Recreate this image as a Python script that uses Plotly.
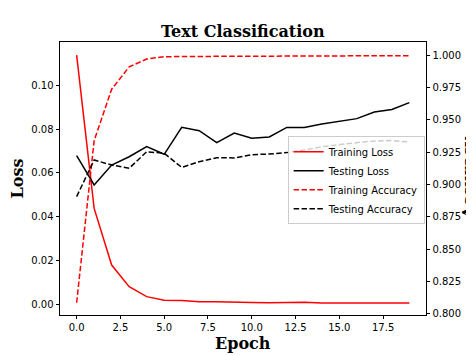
import plotly.graph_objects as go

epochs = list(range(20))
training_loss = [0.1138, 0.0438, 0.0179, 0.0080, 0.0035, 0.0018, 0.0017, 0.0012, 0.0012, 0.0009,
                 0.0008, 0.0007, 0.0008, 0.0009, 0.0006, 0.0006, 0.0006, 0.0006, 0.0006, 0.0006]
testing_loss = [0.0679, 0.0545, 0.0636, 0.0674, 0.0720, 0.0685, 0.0808, 0.0793, 0.0738, 0.0782,
                0.0758, 0.0764, 0.0808, 0.0808, 0.0823, 0.0836, 0.0848, 0.0878, 0.0890, 0.0921]
training_acc = [0.8087, 0.9340, 0.9737, 0.9910, 0.9970, 0.9988, 0.9990, 0.9991, 0.9992, 0.9993,
                0.9994, 0.9994, 0.9993, 0.9994, 0.9995, 0.9995, 0.9995, 0.9995, 0.9996, 0.9996]
testing_acc = [0.8907, 0.9190, 0.9151, 0.9126, 0.9254, 0.9242, 0.9133, 0.9177, 0.9208, 0.9206,
               0.9231, 0.9236, 0.9247, 0.9267, 0.9293, 0.9311, 0.9324, 0.9337, 0.9340, 0.9329]

x_ticks = [0, 2.5, 5, 7.5, 10, 12.5, 15, 17.5]
loss_ticks = [0.00, 0.02, 0.04, 0.06, 0.08, 0.10]
acc_ticks = [0.800, 0.825, 0.850, 0.875, 0.900, 0.925, 0.950, 0.975, 1.000]

fig = go.Figure()
fig.add_trace(go.Scatter(x=epochs, y=training_loss, name="Training Loss", mode="lines",
                         line=dict(color="#ff0000", width=1.5)))
fig.add_trace(go.Scatter(x=epochs, y=testing_loss, name="Testing Loss", mode="lines",
                         line=dict(color="#000000", width=1.5)))
fig.add_trace(go.Scatter(x=epochs, y=training_acc, name="Training Accuracy", mode="lines",
                         yaxis="y2", line=dict(color="#ff0000", width=1.5, dash="5.5px,2.4px")))
fig.add_trace(go.Scatter(x=epochs, y=testing_acc, name="Testing Accuracy", mode="lines",
                         yaxis="y2", line=dict(color="#000000", width=1.5, dash="5.5px,2.4px")))

tickfont = dict(family="DejaVu Sans", size=10, color="#000000")
axis_common = dict(showgrid=False, zeroline=False, showline=True, linecolor="#000000", linewidth=0.8,
                   ticks="outside", ticklen=3.5, tickwidth=0.8, tickcolor="#000000", tickfont=tickfont)

fig.update_layout(
    width=466, height=347,
    margin=dict(l=52, r=48, t=34, b=40),
    paper_bgcolor="white", plot_bgcolor="white",
    xaxis=dict(range=[-0.95, 19.95], tickvals=x_ticks, ticktext=[f"{v:.1f}" for v in x_ticks],
               mirror=True, **axis_common),
    yaxis=dict(range=[-0.0049, 0.1198], tickvals=loss_ticks, ticktext=[f"{v:.2f}" for v in loss_ticks],
               **axis_common),
    yaxis2=dict(range=[0.7992, 1.0102], tickvals=acc_ticks, ticktext=[f"{v:.3f}" for v in acc_ticks],
                overlaying="y", side="right", **axis_common),
    legend=dict(x=0.622, y=0.655, xanchor="left", yanchor="top",
                bgcolor="rgba(255,255,255,0.8)", bordercolor="#cccccc", borderwidth=1,
                font=dict(family="DejaVu Sans", size=10, color="#000000"),
                itemwidth=30, tracegroupgap=0),
    showlegend=True,
    annotations=[
        dict(text="<b>Text Classification</b>", xref="paper", yref="paper", x=0.5, y=1.0,
             yshift=11, xanchor="center", yanchor="middle", showarrow=False,
             font=dict(family="DejaVu Serif", size=16, color="#000000")),
        dict(text="<b>Epoch</b>", xref="paper", yref="paper", x=0.5, y=0, yshift=-28,
             xanchor="center", yanchor="middle", showarrow=False,
             font=dict(family="DejaVu Serif", size=16, color="#000000")),
        dict(text="<b>Loss</b>", xref="paper", yref="paper", x=0, xshift=-43, y=0.5,
             xanchor="center", yanchor="middle", textangle=-90, showarrow=False,
             font=dict(family="DejaVu Serif", size=16, color="#000000")),
        dict(text="<b>Accuracy</b>", xref="paper", yref="paper", x=1, xshift=42, y=0.5,
             xanchor="center", yanchor="middle", textangle=-90, showarrow=False,
             font=dict(family="DejaVu Serif", size=16, color="#000000")),
    ],
)

fig.write_html("out.html")
